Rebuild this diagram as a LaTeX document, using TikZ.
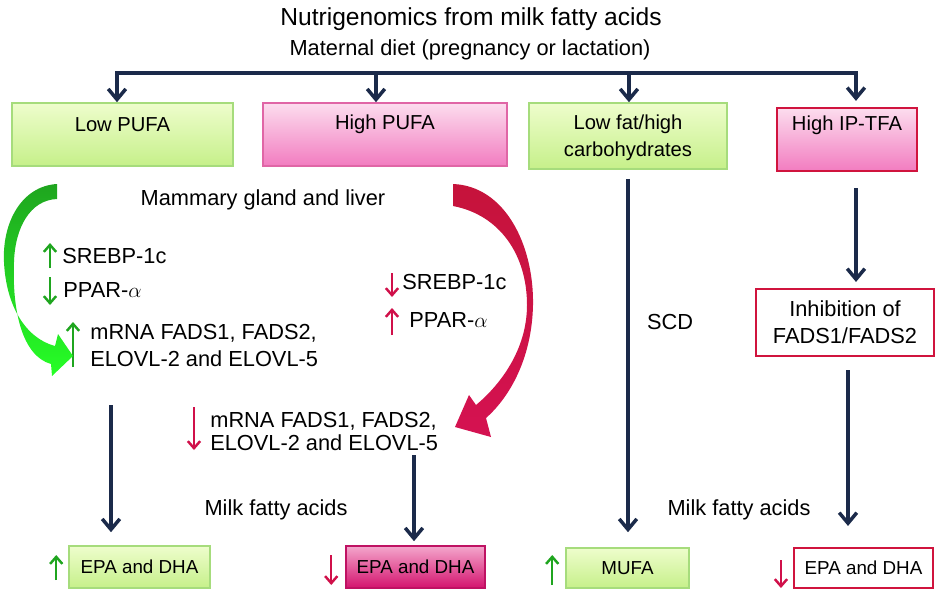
\documentclass[tikz,border=0pt]{standalone}
\usepackage{fontspec}
\setmainfont{Liberation Sans}
\usetikzlibrary{arrows.meta}

\definecolor{arrnavy}{HTML}{1B2A4A}
\definecolor{upgreen}{HTML}{1FA51F}
\definecolor{dnred}{HTML}{D0104A}
\definecolor{greentop}{HTML}{EEFDCC}
\definecolor{greenbot}{HTML}{C6F08A}
\definecolor{greenline}{HTML}{A6DC7C}
\definecolor{pinktop}{HTML}{FCDDEE}
\definecolor{pinkbot}{HTML}{F27CC0}
\definecolor{pinkline}{HTML}{E066A6}
\definecolor{magtop}{HTML}{F4A6CC}
\definecolor{magbot}{HTML}{D4146E}
\definecolor{crimson}{HTML}{D0143E}

\tikzset{
  txt/.style={inner sep=0pt, font=\fontsize{12.4}{15.3}\selectfont},
  boxtxt/.style={inner sep=0pt, align=center, font=\fontsize{11.5}{15.3}\selectfont},
  smalltxt/.style={font=\fontsize{10.7}{13}\selectfont},
  greenbox/.style={draw=greenline, line width=0.9pt, top color=greentop, bottom color=greenbot, inner sep=0pt},
  pinkbox/.style={draw=pinkline, line width=0.9pt, top color=pinktop, bottom color=pinkbot, inner sep=0pt},
  redbox/.style={draw=crimson, line width=1.2pt, fill=white, inner sep=0pt},
  arr/.style={arrnavy, line width=2pt, -{Straight Barb[length=6pt,width=10pt]}},
  upg/.style={upgreen, line width=1.4pt, -{Straight Barb[length=4pt,width=7pt]}},
  dnr/.style={dnred, line width=1.4pt, -{Straight Barb[length=4pt,width=7pt]}},
}

\begin{document}
\begin{tikzpicture}[x=0.02cm, y=-0.02cm]
  \useasboundingbox (0,0) rectangle (936,592);

  % headings
  \node[txt, font=\fontsize{14}{16}\selectfont] (title) at (471,19) {Nutrigenomics from milk fatty acids};
  \node[txt] (diet) at (470,50) {Maternal diet (pregnancy or lactation)};

  % diet boxes
  \node[greenbox, minimum width=4.42cm, minimum height=1.26cm] (lowpufa) at (122.5,134.5) {};
  \node[pinkbox, minimum width=4.88cm, minimum height=1.26cm] (highpufa) at (385,134.5) {};
  \node[greenbox, minimum width=3.96cm, minimum height=1.32cm] (lowfat) at (628,136) {};
  \node[pinkbox, draw=crimson, line width=1.3pt, minimum width=2.8cm, minimum height=1.26cm] (iptfa) at (847,139.5) {};
  \node[boxtxt] (lowpufaT) at ([shift={(0,22)}]lowpufa.north) {Low PUFA};
  \node[boxtxt] (highpufaT) at ([shift={(0,22)}]highpufa.north) {High PUFA};
  \node[boxtxt] (lowfatT) at ([shift={(0,35.5)}]lowfat.north) {Low fat/high\\carbohydrates};
  \node[boxtxt] (iptfaT) at ([shift={(0,18)}]iptfa.north) {High IP-TFA};

  % bus from maternal diet
  \coordinate (busL) at (117,73);
  \coordinate (busB) at (376,73);
  \coordinate (busC) at (629,73);
  \coordinate (busR) at (856,73);
  \draw[arr, {Straight Barb[length=6pt,width=10pt]}-{Straight Barb[length=6pt,width=10pt]}, shorten >=0.12cm]
    (busL |- lowpufa.north) -- (busL) -- (busR) -- (busR |- iptfa.north);
  \draw[arr] (busB) -- (busB |- highpufa.north);
  \draw[arr] (busC) -- (busC |- lowfat.north);

  % mammary gland and liver
  \node[txt] (mammary) at (263,200) {Mammary gland and liver};
  \node[txt, anchor=west] (srebpL) at (62,256) {SREBP-1c};
  \node[txt, anchor=west] (pparL) at (63,290) {PPAR-$\alpha$};
  \node[txt, anchor=west, align=left] (mrnaL) at (90,345.5) {mRNA FADS1, FADS2,\\ELOVL-2 and ELOVL-5};
  \node[txt, anchor=west] (srebpR) at (402,282) {SREBP-1c};
  \node[txt, anchor=west] (pparR) at (409,320) {PPAR-$\alpha$};
  \node[txt, anchor=west, align=left, font=\fontsize{12.4}{13}\selectfont] (mrnaM) at (210,431.5) {mRNA FADS1, FADS2,\\ELOVL-2 and ELOVL-5};
  \draw[upg] ([shift={(-12,12)}]srebpL.west) -- ++(0,-25);
  \draw[upg] ([shift={(-13,-13)}]pparL.west) -- ++(0,28);
  \draw[upg] ([shift={(-17,21.5)}]mrnaL.west) -- ++(0,-45);
  \draw[dnr] ([shift={(-10,-9)}]srebpR.west) -- ++(0,24);
  \draw[dnr] ([shift={(-17,15)}]pparR.west) -- ++(0,-27);
  \draw[dnr] ([shift={(-16,-24.5)}]mrnaM.west) -- ++(0,43);

  % curved arrows
  \shade[top color=upgreen, bottom color=green!85!white]
    (57,184) .. controls (22,186) and (2,222) .. (4,262)
    .. controls (6,305) and (25,338) .. (55,346) -- (58,334) -- (73,356) -- (52,376) -- (51,364)
    .. controls (22,356) and (12,310) .. (14,262)
    .. controls (15,228) and (30,200) .. (57,199) -- cycle;
  \shade[top color=crimson!95!black, bottom color=crimson!90!magenta]
    (453,184) .. controls (505,186) and (534,245) .. (533,305)
    .. controls (532,355) and (512,395) .. (486,418) -- (491,437) -- (455,427) -- (469,395) -- (476,405)
    .. controls (500,385) and (527,350) .. (527,305)
    .. controls (527,255) and (500,215) .. (453,206) -- cycle;

  % right branches
  \node[txt] (scd) at (670,322) {SCD};
  \node[redbox, minimum width=3.56cm, minimum height=1.34cm, align=center, txt] (inhib) at (845,322.5) {Inhibition of\\FADS1/FADS2};
  \coordinate (ipS) at ([shift={(9,0)}]iptfa.south);
  \draw[arr, shorten <=0.32cm, shorten >=0.12cm] (ipS) -- (ipS |- inhib.north);

  % milk fatty acids
  \node[txt] (milkL) at (276,510) {Milk fatty acids};
  \node[txt] (milkR) at (739,510) {Milk fatty acids};
  \node[greenbox, smalltxt, minimum width=2.82cm, minimum height=0.84cm] (epaL) at (139.5,567) {EPA and DHA};
  \node[pinkbox, smalltxt, draw=magbot!90!black, top color=magtop, bottom color=magbot, minimum width=2.78cm, minimum height=0.84cm] (epaM) at (415.5,567) {EPA and DHA};
  \node[greenbox, smalltxt, minimum width=2.46cm, minimum height=0.8cm] (mufa) at (627.5,568) {MUFA};
  \node[redbox, smalltxt, minimum width=2.78cm, minimum height=0.8cm] (epaR) at (863.5,568) {EPA and DHA};
  \draw[upg] ([shift={(-12,13)}]epaL.west) -- ++(0,-25);
  \draw[dnr] ([shift={(-14,-12)}]epaM.west) -- ++(0,30);
  \draw[upg] ([shift={(-13,17)}]mufa.west) -- ++(0,-30);
  \draw[dnr] ([shift={(-12,-8)}]epaR.west) -- ++(0,28);

  \coordinate (dL) at (111,405);
  \coordinate (dM) at (414,455);
  \coordinate (inS) at ([shift={(3,0)}]inhib.south);
  \draw[arr, shorten >=0.26cm] (dL) -- (dL |- epaL.north);
  \draw[arr, shorten >=0.08cm] (dM) -- (dM |- epaM.north);
  \draw[arr, shorten <=0.18cm, shorten >=0.3cm] (lowfat.south) -- (lowfat.south |- mufa.north);
  \draw[arr, shorten <=0.26cm, shorten >=0.42cm] (inS) -- (inS |- epaR.north);
\end{tikzpicture}
\end{document}
